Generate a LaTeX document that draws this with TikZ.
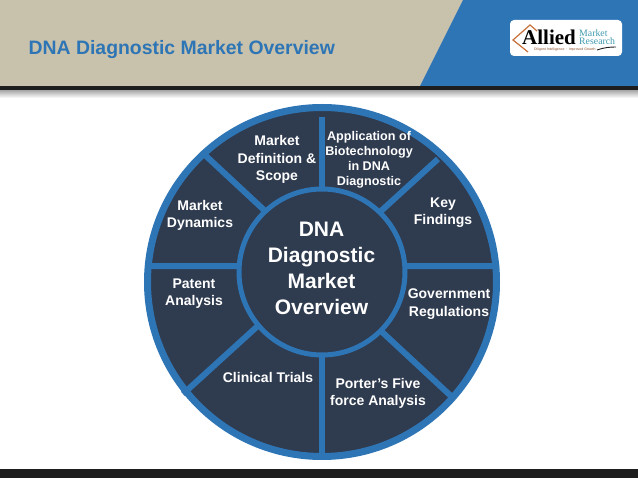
\documentclass[tikz,border=0pt]{standalone}
\usepackage{fontspec}
\setmainfont{Liberation Sans}
\newfontfamily\logofont{Liberation Serif}
\definecolor{headtan}{HTML}{C8C1AB}
\definecolor{headblue}{HTML}{2E75B6}
\definecolor{wheelnavy}{HTML}{2F3B4F}
\definecolor{barblack}{HTML}{1E1E1E}
\definecolor{logoteal}{HTML}{3F9AAE}
\definecolor{logoorange}{HTML}{C8713A}
\tikzset{
  spoke/.style={line width=6pt,draw=headblue},
  seglabel/.style={text=white,font=\bfseries\fontsize{14}{17.5}\selectfont,align=center},
}
\begin{document}
\begin{tikzpicture}[x=1pt,y=-1pt]
\useasboundingbox (0,0) rectangle (638,478);
\fill[white] (0,0) rectangle (638,478);
% header
\fill[headtan] (0,0) rectangle (638,86);
\fill[headblue] (463,0) -- (638,0) -- (638,86) -- (420,86) -- cycle;
\shade[top color=black!35,bottom color=white] (0,90) rectangle (638,98);
\fill[barblack] (0,86) rectangle (638,90.5);
\fill[barblack] (0,469) rectangle (638,478);
\node[anchor=west,text=headblue,font=\bfseries\fontsize{19.4}{24}\selectfont,inner sep=0pt] (title) at (28.5,50) {DNA Diagnostic Market Overview};
% logo
\fill[white,rounded corners=4pt] (510,20) rectangle (622,56);
\draw[logoorange,line width=1.2pt] (537,31) -- (530,25) -- (513,40) -- (528,52);
\node[anchor=base west,inner sep=0pt,font=\logofont\bfseries\fontsize{21}{21}\selectfont] (allied) at (522,44.5) {Allied};
\node[anchor=base west,inner sep=0pt,text=logoteal,font=\logofont\fontsize{9.8}{10}\selectfont] (logotop) at (579,36.5) {Market};
\node[anchor=base west,inner sep=0pt,text=logoteal,font=\logofont\fontsize{9.8}{10}\selectfont] (logobot) at (579,45) {Research};
\node[anchor=base west,inner sep=0pt,text=logoorange!70!black,font=\fontsize{3.5}{3.5}\selectfont] (logotag) at (534,50.5) {Diligent Intelligence $\cdot$ Improved Growth};
\draw[barblack,line width=0.9pt] (597,50) .. controls (604,47.5) and (610,47) .. (616,47);
% wheel
\node[circle,draw=headblue,line width=7pt,fill=wheelnavy,minimum size=349pt,inner sep=0pt] (wheel) at (322,282) {};
\coordinate (rimn) at (322,117);
\coordinate (rims) at (322,456);
\coordinate (rimw) at (146,266);
\coordinate (rime) at (499,266);
\coordinate (rimnw) at (206,156);
\coordinate (rimne) at (438,159);
\coordinate (rimsw) at (183,394);
\coordinate (rimse) at (452,397);
\node[circle,minimum size=166pt,inner sep=0pt] (hubshape) at (322,272) {};
\foreach \rim/\ang in {rimn/90,rims/-90,rimw/176,rime/4,rimnw/133,rimne/46,rimsw/220,rimse/-45} {
  \draw[spoke] (\rim) -- (hubshape.\ang);
}
\node[circle,draw=headblue,line width=5pt,fill=wheelnavy,minimum size=166pt,inner sep=0pt] (hub) at (322,272) {};
\node[text=white,align=center,font=\bfseries\fontsize{21}{26}\selectfont] (hubtext) at (321.5,268) {DNA\\Diagnostic\\Market\\Overview};
% segments
\node[seglabel] (defn) at (277,159.5) {Market\\Definition \&\\Scope};
\node[seglabel,font=\bfseries\fontsize{12.6}{15}\selectfont] (biotech) at (369,160) {Application of\\Biotechnology\\in DNA\\Diagnostic};
\node[seglabel] (key) at (443,212.5) {Key\\Findings};
\node[seglabel] (dyn) at (200,215.5) {Market\\Dynamics};
\node[seglabel] (patent) at (194,293.5) {Patent\\Analysis};
\node[seglabel] (gov) at (449,304) {Government\\Regulations};
\node[seglabel] (trials) at (268,377) {Clinical Trials};
\node[seglabel] (porter) at (378,393.5) {Porter’s Five\\force Analysis};
\end{tikzpicture}
\end{document}
